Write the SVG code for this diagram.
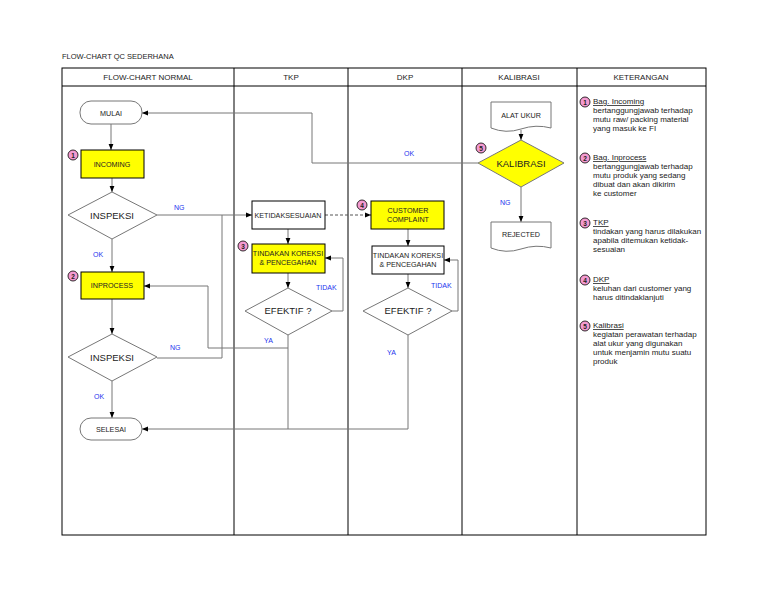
<svg xmlns="http://www.w3.org/2000/svg" width="768" height="594" viewBox="0 0 768 594">
<defs>
<marker id="ar" viewBox="0 0 10 10" refX="10" refY="5" markerWidth="6" markerHeight="6" orient="auto"><path d="M0,1 L10,5 L0,9 z" fill="#000"/></marker>
<style>
text{font-family:"Liberation Sans",Arial,sans-serif;font-size:8px;fill:#222}
.c{text-anchor:middle}
.s{font-size:7.2px}
.b{font-size:9.5px}
.lb{fill:#2233ee;font-size:7px}
.n{fill:#fff;stroke:#000;stroke-width:1}
.y{fill:#ffff00;stroke:#000;stroke-width:1}
.d{fill:#fff;stroke:#777;stroke-width:1}
.dy{fill:#ffff00;stroke:#777;stroke-width:1}
.l{fill:none;stroke:#777;stroke-width:1}
.bd{fill:#f49ad0;stroke:#000;stroke-width:0.8}
.bt{font-size:6.5px;font-weight:bold;text-anchor:middle}
.u{text-decoration:underline}
</style>
</defs>
<rect width="768" height="594" fill="#fff"/>
<text x="62" y="59" style="font-size:7.5px">FLOW-CHART QC SEDERHANA</text>
<g id="table" fill="none" stroke="#000" stroke-width="1">
<rect x="62" y="68" width="644" height="467"/>
<line x1="62" y1="86" x2="706" y2="86"/>
<line x1="234" y1="68" x2="234" y2="535"/>
<line x1="348" y1="68" x2="348" y2="535"/>
<line x1="462" y1="68" x2="462" y2="535"/>
<line x1="577" y1="68" x2="577" y2="535"/>
</g>
<g id="headers">
<text class="c" x="148" y="80">FLOW-CHART NORMAL</text>
<text class="c" x="291" y="80">TKP</text>
<text class="c" x="405" y="80">DKP</text>
<text class="c" x="519" y="80">KALIBRASI</text>
<text class="c" x="641" y="80">KETERANGAN</text>
</g>
<g id="connectors">
<line class="l" x1="111" y1="124" x2="111" y2="150" marker-end="url(#ar)"/>
<line class="l" x1="112" y1="178" x2="112" y2="192" marker-end="url(#ar)"/>
<line class="l" x1="112" y1="239" x2="112" y2="272" marker-end="url(#ar)"/>
<line class="l" x1="112" y1="299" x2="112" y2="334" marker-end="url(#ar)"/>
<line class="l" x1="112" y1="381" x2="112" y2="418" marker-end="url(#ar)"/>
<line class="l" x1="157" y1="215" x2="252" y2="215" marker-end="url(#ar)"/>
<polyline class="l" points="157,358 222,358 222,215"/>
<line x1="325" y1="215" x2="371" y2="215" stroke="#555" stroke-dasharray="3,2" marker-end="url(#ar)"/>
<line class="l" x1="288" y1="229" x2="288" y2="244" marker-end="url(#ar)"/>
<line class="l" x1="288" y1="273" x2="288" y2="288" marker-end="url(#ar)"/>
<polyline class="l" points="332,311 343,311 343,258 325,258" marker-end="url(#ar)"/>
<polyline class="l" points="288,335 288,348 208,348 208,286 144,286" marker-end="url(#ar)"/>
<polyline class="l" points="288,348 288,429"/>
<polyline class="l" points="408,335 408,429 142,429" marker-end="url(#ar)"/>
<line class="l" x1="408" y1="229" x2="408" y2="246" marker-end="url(#ar)"/>
<line class="l" x1="408" y1="274" x2="408" y2="288" marker-end="url(#ar)"/>
<polyline class="l" points="452,311 458,311 458,260 444,260" marker-end="url(#ar)"/>
<line class="l" x1="521" y1="130" x2="521" y2="140" marker-end="url(#ar)"/>
<line class="l" x1="521" y1="187" x2="521" y2="222" marker-end="url(#ar)"/>
<polyline class="l" points="478,163 312,163 312,113 142,113" marker-end="url(#ar)"/>
<text class="lb" x="174" y="210">NG</text>
<text class="lb" x="93" y="257">OK</text>
<text class="lb" x="170" y="350">NG</text>
<text class="lb" x="94" y="399">OK</text>
<text class="lb" x="316" y="290">TIDAK</text>
<text class="lb" x="264" y="343">YA</text>
<text class="lb" x="431" y="288">TIDAK</text>
<text class="lb" x="387" y="355">YA</text>
<text class="lb" x="404" y="156">OK</text>
<text class="lb" x="500" y="205">NG</text>
</g>
<g id="mulai"><rect class="d" x="80" y="101" width="62" height="23" rx="11"/><text class="c s" x="111" y="116">MULAI</text></g>
<g id="incoming"><rect class="y" x="81" y="150" width="63" height="28"/><text class="c s" x="112" y="167">INCOMING</text>
<circle class="bd" cx="73" cy="155" r="5"/><text class="bt" x="73" y="157.5">1</text></g>
<g id="inspeksi1"><polygon class="d" points="68,215 112,192 157,215 112,239"/><text class="c b" x="112" y="219">INSPEKSI</text></g>
<g id="inprocess"><rect class="y" x="81" y="272" width="63" height="27"/><text class="c s" x="112" y="288">INPROCESS</text>
<circle class="bd" cx="73" cy="276" r="5"/><text class="bt" x="73" y="278.5">2</text></g>
<g id="inspeksi2"><polygon class="d" points="68,357 112,334 157,357 112,381"/><text class="c b" x="112" y="361">INSPEKSI</text></g>
<g id="selesai"><rect class="d" x="80" y="418" width="62" height="22" rx="11"/><text class="c s" x="111" y="432">SELESAI</text></g>
<g id="ketidak"><rect class="n" x="252" y="201" width="73" height="28"/><text class="c s" x="288" y="218">KETIDAKSESUAIAN</text></g>
<g id="tindakan1"><rect class="y" x="252" y="244" width="73" height="29"/><text class="c s" x="288" y="256">TINDAKAN KOREKSI</text><text class="c s" x="288" y="265">&amp; PENCEGAHAN</text>
<circle class="bd" cx="243" cy="246" r="5"/><text class="bt" x="243" y="248.5">3</text></g>
<g id="efektif1"><polygon class="d" points="245,311 288,288 332,311 288,335"/><text class="c b" x="288" y="314">EFEKTIF ?</text></g>
<g id="customer"><rect class="y" x="371" y="201" width="73" height="28"/><text class="c s" x="408" y="213">CUSTOMER</text><text class="c s" x="408" y="222">COMPLAINT</text>
<circle class="bd" cx="362" cy="205" r="5"/><text class="bt" x="362" y="207.5">4</text></g>
<g id="tindakan2"><rect class="n" x="372" y="246" width="72" height="28"/><text class="c s" x="408" y="258">TINDAKAN KOREKSI</text><text class="c s" x="408" y="267">&amp; PENCEGAHAN</text></g>
<g id="efektif2"><polygon class="d" points="363,311 408,288 452,311 408,335"/><text class="c b" x="408" y="314">EFEKTIF ?</text></g>
<g id="alatukur"><path class="d" d="M491,102 H551 V128 Q536,124 521,129 T491,128 Z"/><text class="c s" x="521" y="118">ALAT UKUR</text></g>
<g id="kalibrasi"><polygon class="dy" points="478,163 521,140 564,163 521,187"/><text class="c b" x="521" y="167">KALIBRASI</text>
<circle class="bd" cx="481" cy="148" r="5"/><text class="bt" x="481" y="150.5">5</text></g>
<g id="rejected"><path class="d" d="M491,222 H551 V248 Q536,244 521,249 T491,248 Z"/><text class="c s" x="521" y="237">REJECTED</text></g>
<g id="legend">
<circle class="bd" cx="585" cy="102" r="5"/><text class="bt" x="585" y="104.5">1</text>
<text x="593" y="104" class="u">Bag. Incoming</text>
<text x="593" y="113">bertanggungjawab terhadap</text>
<text x="593" y="122">mutu raw/ packing material</text>
<text x="593" y="131">yang masuk ke FI</text>
<circle class="bd" cx="585" cy="158" r="5"/><text class="bt" x="585" y="160.5">2</text>
<text x="593" y="160" class="u">Bag. Inprocess</text>
<text x="593" y="169">bertanggungjawab terhadap</text>
<text x="593" y="178">mutu produk yang sedang</text>
<text x="593" y="187">dibuat dan akan dikirim</text>
<text x="593" y="196">ke customer</text>
<circle class="bd" cx="585" cy="223" r="5"/><text class="bt" x="585" y="225.5">3</text>
<text x="593" y="225" class="u">TKP</text>
<text x="593" y="234">tindakan yang harus dilakukan</text>
<text x="593" y="243">apabila ditemukan ketidak-</text>
<text x="593" y="252">sesuaian</text>
<circle class="bd" cx="585" cy="280" r="5"/><text class="bt" x="585" y="282.5">4</text>
<text x="593" y="282" class="u">DKP</text>
<text x="593" y="291">keluhan dari customer yang</text>
<text x="593" y="300">harus ditindaklanjuti</text>
<circle class="bd" cx="585" cy="326" r="5"/><text class="bt" x="585" y="328.5">5</text>
<text x="593" y="328" class="u">Kalibrasi</text>
<text x="593" y="337">kegiatan perawatan terhadap</text>
<text x="593" y="346">alat ukur yang digunakan</text>
<text x="593" y="355">untuk menjamin mutu suatu</text>
<text x="593" y="364">produk</text>
</g>
</svg>
